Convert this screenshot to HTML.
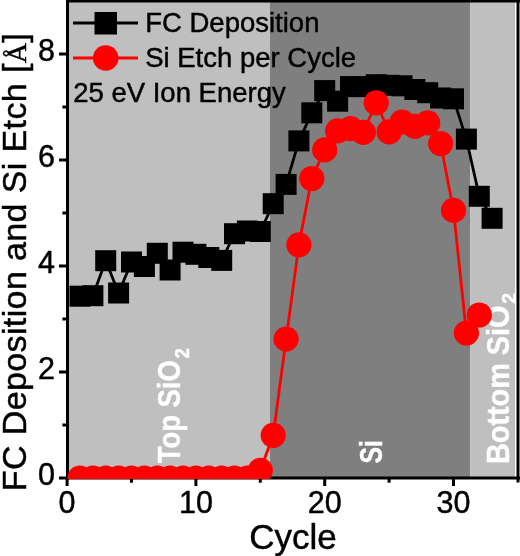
<!DOCTYPE html>
<html><head><meta charset="utf-8"><title>FC Deposition and Si Etch</title>
<style>
html,body{margin:0;padding:0;background:#fff;}
body{width:520px;height:556px;overflow:hidden;}
svg{display:block;}
text{font-family:"Liberation Sans",sans-serif;fill:#000;stroke:#000;stroke-width:0.45;}
.w{fill:#fff;font-weight:bold;stroke:#fff;stroke-width:0.4;}
</style></head><body>
<svg width="520" height="556" viewBox="0 0 520 556">
<defs><clipPath id="cp"><rect x="60" y="0" width="460" height="479"/></clipPath></defs>
<rect x="0" y="0" width="520" height="556" fill="#fff"/>

<rect x="67" y="0" width="203" height="478" fill="#bfbfbf"/>
<rect x="270" y="0" width="200.4" height="478" fill="#7f7f7f"/>
<rect x="470.4" y="0" width="44.6" height="478" fill="#bfbfbf"/>
<g transform="translate(180.2,463.3) rotate(-90) scale(0.885,1)"><text class="w" x="0" y="0" font-size="31">Top SiO<tspan font-size="21" dy="9" dx="2">2</tspan></text></g>
<g transform="translate(382.2,463.5) rotate(-90) scale(0.795,1)"><text class="w" x="0" y="0" font-size="31">Si</text></g>
<g transform="translate(508.8,464) rotate(-90) scale(0.93,1)"><text class="w" x="0" y="0" font-size="31">Bottom SiO<tspan font-size="21" dy="7" dx="2">2</tspan></text></g>
<g stroke="#000" stroke-width="3" fill="none">
<line x1="67.5" y1="0" x2="67.5" y2="479.5"/>
<line x1="66" y1="478" x2="520" y2="478"/>
<line x1="66" y1="1" x2="520" y2="1"/>
<line x1="518" y1="0" x2="518" y2="482.5"/>
<line x1="67.1" y1="478" x2="67.1" y2="486"/>
<line x1="195.9" y1="478" x2="195.9" y2="486"/>
<line x1="324.7" y1="478" x2="324.7" y2="486"/>
<line x1="453.5" y1="478" x2="453.5" y2="486"/>
<line x1="131.5" y1="478" x2="131.5" y2="482.7"/>
<line x1="260.3" y1="478" x2="260.3" y2="482.7"/>
<line x1="389.1" y1="478" x2="389.1" y2="482.7"/>
<line x1="59" y1="478.0" x2="67" y2="478.0"/>
<line x1="59" y1="372.0" x2="67" y2="372.0"/>
<line x1="59" y1="266.0" x2="67" y2="266.0"/>
<line x1="59" y1="160.0" x2="67" y2="160.0"/>
<line x1="59" y1="54.0" x2="67" y2="54.0"/>
<line x1="62.4" y1="425.0" x2="67" y2="425.0"/>
<line x1="62.4" y1="319.0" x2="67" y2="319.0"/>
<line x1="62.4" y1="213.0" x2="67" y2="213.0"/>
<line x1="62.4" y1="107.0" x2="67" y2="107.0"/>
</g>
<text x="67.1" y="512.5" font-size="30.5" text-anchor="middle">0</text>
<text x="195.9" y="512.5" font-size="30.5" text-anchor="middle">10</text>
<text x="324.7" y="512.5" font-size="30.5" text-anchor="middle">20</text>
<text x="453.5" y="512.5" font-size="30.5" text-anchor="middle">30</text>
<text x="55" y="485.0" font-size="30.5" text-anchor="end">0</text>
<text x="55" y="379.0" font-size="30.5" text-anchor="end">2</text>
<text x="55" y="273.0" font-size="30.5" text-anchor="end">4</text>
<text x="55" y="167.0" font-size="30.5" text-anchor="end">6</text>
<text x="55" y="61.0" font-size="30.5" text-anchor="end">8</text>
<text x="293" y="548.6" font-size="35" text-anchor="middle">Cycle</text>
<text transform="translate(25.5,262) rotate(-90)" font-size="34" letter-spacing="0.38" text-anchor="middle">FC Deposition and Si Etch [<tspan font-family="Liberation Serif,serif" font-size="28">Å</tspan>]</text>
<g clip-path="url(#cp)">
<polyline fill="none" stroke="#000" stroke-width="2.8" points="80.0,296.2 92.9,295.7 105.7,260.7 118.6,293.0 131.5,262.0 144.4,266.5 157.3,253.3 170.1,270.0 183.0,252.2 195.9,254.3 208.8,257.5 221.7,260.4 234.5,233.7 247.4,231.0 260.3,231.5 273.2,203.7 286.1,184.4 298.9,140.9 311.8,112.8 324.7,90.6 337.6,101.2 350.5,86.6 363.3,86.6 376.2,84.7 389.1,85.3 402.0,85.8 414.9,89.5 427.7,92.7 440.6,98.0 453.5,98.8 466.4,139.1 479.3,196.3 492.1,218.3"/>
<rect x="69.5" y="285.7" width="21.0" height="21.0" fill="#000"/>
<rect x="82.4" y="285.2" width="21.0" height="21.0" fill="#000"/>
<rect x="95.2" y="250.2" width="21.0" height="21.0" fill="#000"/>
<rect x="108.1" y="282.5" width="21.0" height="21.0" fill="#000"/>
<rect x="121.0" y="251.5" width="21.0" height="21.0" fill="#000"/>
<rect x="133.9" y="256.0" width="21.0" height="21.0" fill="#000"/>
<rect x="146.8" y="242.8" width="21.0" height="21.0" fill="#000"/>
<rect x="159.6" y="259.5" width="21.0" height="21.0" fill="#000"/>
<rect x="172.5" y="241.7" width="21.0" height="21.0" fill="#000"/>
<rect x="185.4" y="243.8" width="21.0" height="21.0" fill="#000"/>
<rect x="198.3" y="247.0" width="21.0" height="21.0" fill="#000"/>
<rect x="211.2" y="249.9" width="21.0" height="21.0" fill="#000"/>
<rect x="224.0" y="223.2" width="21.0" height="21.0" fill="#000"/>
<rect x="236.9" y="220.5" width="21.0" height="21.0" fill="#000"/>
<rect x="249.8" y="221.0" width="21.0" height="21.0" fill="#000"/>
<rect x="262.7" y="193.2" width="21.0" height="21.0" fill="#000"/>
<rect x="275.6" y="173.9" width="21.0" height="21.0" fill="#000"/>
<rect x="288.4" y="130.4" width="21.0" height="21.0" fill="#000"/>
<rect x="301.3" y="102.3" width="21.0" height="21.0" fill="#000"/>
<rect x="314.2" y="80.1" width="21.0" height="21.0" fill="#000"/>
<rect x="327.1" y="90.7" width="21.0" height="21.0" fill="#000"/>
<rect x="340.0" y="76.1" width="21.0" height="21.0" fill="#000"/>
<rect x="352.8" y="76.1" width="21.0" height="21.0" fill="#000"/>
<rect x="365.7" y="74.2" width="21.0" height="21.0" fill="#000"/>
<rect x="378.6" y="74.8" width="21.0" height="21.0" fill="#000"/>
<rect x="391.5" y="75.3" width="21.0" height="21.0" fill="#000"/>
<rect x="404.4" y="79.0" width="21.0" height="21.0" fill="#000"/>
<rect x="417.2" y="82.2" width="21.0" height="21.0" fill="#000"/>
<rect x="430.1" y="87.5" width="21.0" height="21.0" fill="#000"/>
<rect x="443.0" y="88.3" width="21.0" height="21.0" fill="#000"/>
<rect x="455.9" y="128.6" width="21.0" height="21.0" fill="#000"/>
<rect x="468.8" y="185.8" width="21.0" height="21.0" fill="#000"/>
<rect x="481.6" y="207.8" width="21.0" height="21.0" fill="#000"/>
<polyline fill="none" stroke="#f00" stroke-width="2.8" points="80.0,478.0 92.9,478.0 105.7,478.0 118.6,478.0 131.5,478.0 144.4,478.0 157.3,478.0 170.1,478.0 183.0,478.0 195.9,478.0 208.8,478.0 221.7,478.0 234.5,478.0 247.4,478.0 260.3,470.3 273.2,435.3 286.1,339.1 298.9,244.8 311.8,178.5 324.7,149.9 337.6,130.9 350.5,128.7 363.3,132.4 376.2,102.8 389.1,131.9 402.0,122.1 414.9,126.3 427.7,122.9 440.6,143.6 453.5,210.4 466.4,333.0 479.3,315.0"/>
<circle cx="80.0" cy="478.0" r="12.6" fill="#f00"/>
<circle cx="92.9" cy="478.0" r="12.6" fill="#f00"/>
<circle cx="105.7" cy="478.0" r="12.6" fill="#f00"/>
<circle cx="118.6" cy="478.0" r="12.6" fill="#f00"/>
<circle cx="131.5" cy="478.0" r="12.6" fill="#f00"/>
<circle cx="144.4" cy="478.0" r="12.6" fill="#f00"/>
<circle cx="157.3" cy="478.0" r="12.6" fill="#f00"/>
<circle cx="170.1" cy="478.0" r="12.6" fill="#f00"/>
<circle cx="183.0" cy="478.0" r="12.6" fill="#f00"/>
<circle cx="195.9" cy="478.0" r="12.6" fill="#f00"/>
<circle cx="208.8" cy="478.0" r="12.6" fill="#f00"/>
<circle cx="221.7" cy="478.0" r="12.6" fill="#f00"/>
<circle cx="234.5" cy="478.0" r="12.6" fill="#f00"/>
<circle cx="247.4" cy="478.0" r="12.6" fill="#f00"/>
<circle cx="260.3" cy="470.3" r="12.6" fill="#f00"/>
<circle cx="273.2" cy="435.3" r="12.6" fill="#f00"/>
<circle cx="286.1" cy="339.1" r="12.6" fill="#f00"/>
<circle cx="298.9" cy="244.8" r="12.6" fill="#f00"/>
<circle cx="311.8" cy="178.5" r="12.6" fill="#f00"/>
<circle cx="324.7" cy="149.9" r="12.6" fill="#f00"/>
<circle cx="337.6" cy="130.9" r="12.6" fill="#f00"/>
<circle cx="350.5" cy="128.7" r="12.6" fill="#f00"/>
<circle cx="363.3" cy="132.4" r="12.6" fill="#f00"/>
<circle cx="376.2" cy="102.8" r="12.6" fill="#f00"/>
<circle cx="389.1" cy="131.9" r="12.6" fill="#f00"/>
<circle cx="402.0" cy="122.1" r="12.6" fill="#f00"/>
<circle cx="414.9" cy="126.3" r="12.6" fill="#f00"/>
<circle cx="427.7" cy="122.9" r="12.6" fill="#f00"/>
<circle cx="440.6" cy="143.6" r="12.6" fill="#f00"/>
<circle cx="453.5" cy="210.4" r="12.6" fill="#f00"/>
<circle cx="466.4" cy="333.0" r="12.6" fill="#f00"/>
<circle cx="479.3" cy="315.0" r="12.6" fill="#f00"/>
</g>
<line x1="73" y1="23" x2="138" y2="23" stroke="#000" stroke-width="2.8"/>
<rect x="94.5" y="12" width="22.5" height="22.5" fill="#000"/>
<line x1="73" y1="58" x2="138" y2="58" stroke="#f00" stroke-width="2.8"/>
<circle cx="105.7" cy="58" r="12.8" fill="#f00"/>
<text x="145.2" y="31.8" font-size="27.5">FC Deposition</text>
<text x="145.2" y="66.6" font-size="27.5">Si Etch per Cycle</text>
<text x="73.2" y="102.3" font-size="27.5">25 eV Ion Energy</text>
</svg></body></html>
